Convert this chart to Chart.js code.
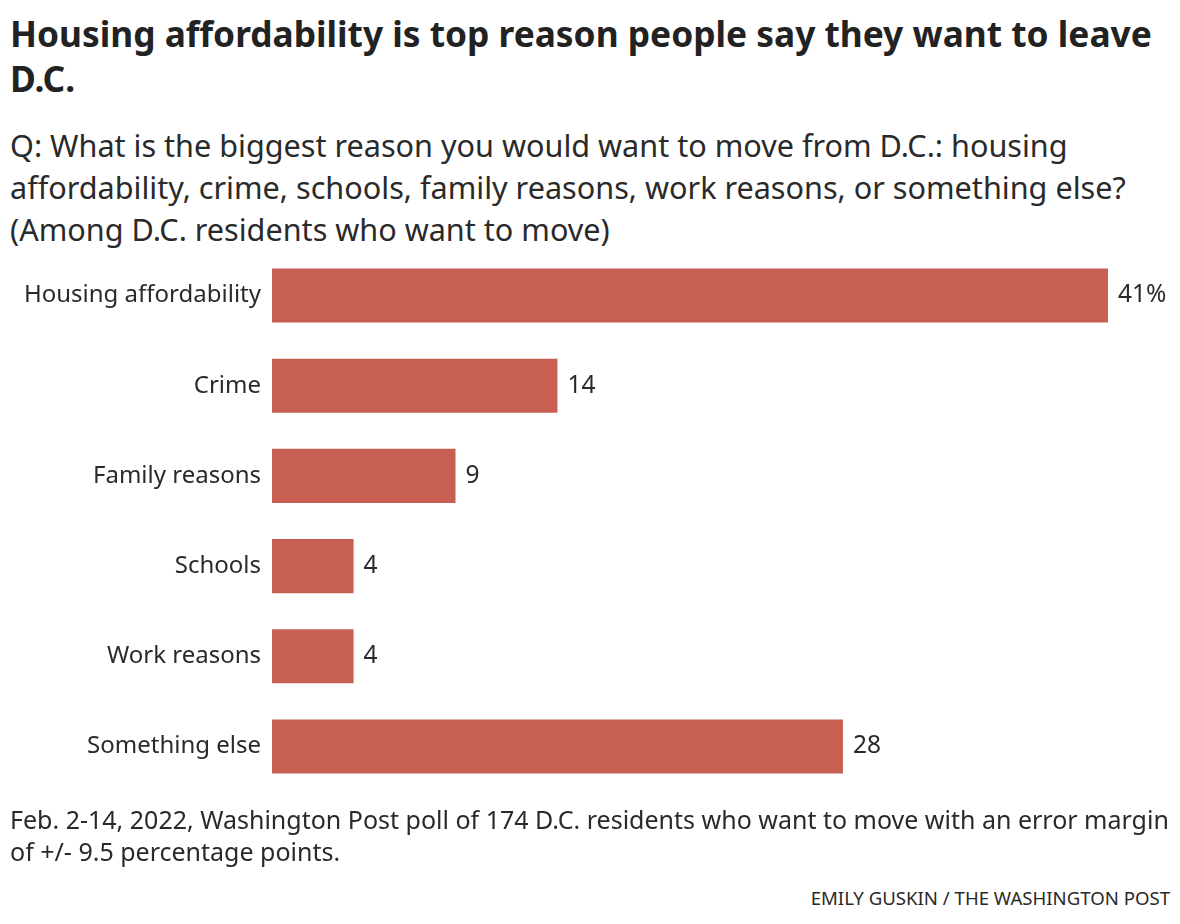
<!DOCTYPE html>
<html>
<head>
<meta charset="utf-8">
<script src="https://cdn.jsdelivr.net/npm/chart.js@4"></script>
<style>
  html, body { margin: 0; padding: 0; background: #fff; }
  body { width: 1180px; height: 924px; position: relative; overflow: hidden; font-family: 'Noto Sans', 'Open Sans', sans-serif; color: #2a2a2a; }
  #title { position: absolute; left: 10px; top: 11px; width: 1165px; font-size: 35.3px; font-weight: 700; line-height: 45px; color: #222; }
  #subtitle { position: absolute; left: 10px; top: 124px; width: 1165px; font-size: 30.6px; line-height: 42px; color: #2a2a2a; }
  #chart-wrap { position: absolute; left: 0; top: 225px; width: 1180px; height: 592px; }
  #note { position: absolute; left: 10px; top: 803px; width: 1165px; font-size: 25px; line-height: 32px; color: #2a2a2a; }
  #credit { position: absolute; right: 10px; top: 885px; font-size: 18.6px; color: #2a2a2a; }
</style>
</head>
<body>
<div id="title">Housing affordability is top reason people say they want to leave D.C.</div>
<div id="subtitle">Q: What is the biggest reason you would want to move from D.C.: housing affordability, crime, schools, family reasons, work reasons, or something else? (Among D.C. residents who want to move)</div>
<div id="chart-wrap"><canvas id="chart"></canvas></div>
<div id="note">Feb. 2-14, 2022, Washington Post poll of 174 D.C. residents who want to move with an error margin of +/- 9.5 percentage points.</div>
<div id="credit">EMILY GUSKIN / THE WASHINGTON POST</div>

<script>
  var reasons = ['Housing affordability', 'Crime', 'Family reasons', 'Schools', 'Work reasons', 'Something else'];
  var shares = [41, 14, 9, 4, 4, 28];
  var valueLabels = ['41%', '14', '9', '4', '4', '28'];

  var BAR = '#c76052';
  var TEXT = '#2a2a2a';
  var FONT = "'Noto Sans', 'Open Sans', sans-serif";

  // value labels just past the end of each bar
  var endLabels = {
    id: 'endLabels',
    afterDatasetsDraw: function (chart) {
      var ctx = chart.ctx;
      var meta = chart.getDatasetMeta(0);
      ctx.save();
      ctx.font = '24.5px ' + FONT;
      ctx.fillStyle = TEXT;
      ctx.textAlign = 'left';
      ctx.textBaseline = 'middle';
      meta.data.forEach(function (bar, i) {
        ctx.fillText(valueLabels[i], bar.x + 10, bar.y);
      });
      ctx.restore();
    }
  };

  new Chart(document.getElementById('chart').getContext('2d'), {
    type: 'bar',
    data: {
      labels: reasons,
      datasets: [{
        data: shares,
        backgroundColor: BAR,
        categoryPercentage: 1,
        barPercentage: 0.6,
        borderWidth: 0
      }]
    },
    options: {
      indexAxis: 'y',
      responsive: true,
      maintainAspectRatio: false,
      animation: false,
      layout: { padding: { left: 0, right: 72, top: 0, bottom: 0 } },
      plugins: { legend: { display: false }, tooltip: { enabled: false } },
      scales: {
        x: { display: false, min: 0, max: 41 },
        y: {
          grid: { display: false, drawTicks: false },
          border: { display: false },
          ticks: { color: TEXT, font: { family: FONT, size: 24 }, padding: 11 },
          afterFit: function (scale) { scale.width = 272; }
        }
      }
    },
    plugins: [endLabels]
  });
</script>
</body>
</html>
